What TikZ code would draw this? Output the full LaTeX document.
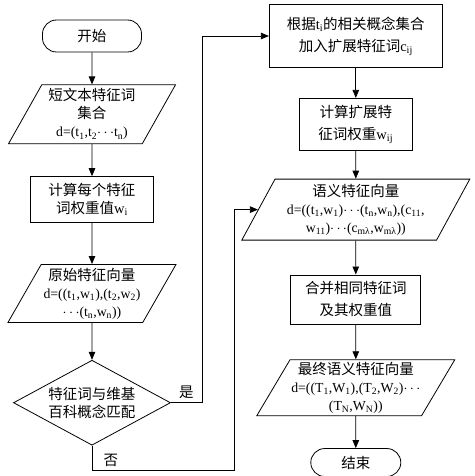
\documentclass[tikz,border=0pt]{standalone}
\usepackage{fontspec}
\setmainfont{Liberation Serif}
\newfontfamily\cjk{Noto Sans CJK SC}
\usetikzlibrary{positioning,shapes.geometric,arrows.meta}
\newcommand{\sbs}[1]{\textsubscript{#1}}
\newcommand{\cds}{$\cdots$}
\newcommand{\fml}{\fontsize{13.8}{17}\selectfont}
\tikzset{
	base/.style={draw, line width=0.8pt, inner sep=0pt, align=center, font=\fontsize{14.5}{18}\selectfont},
	terminal/.style={base, rectangle, rounded corners=14pt},
	process/.style={base, rectangle},
	data/.style={base, trapezium, trapezium left angle=57, trapezium right angle=123, trapezium stretches body},
	decision/.style={base, diamond, aspect=1.85},
	flow/.style={line width=0.8pt, -{Triangle[length=8pt,width=6.5pt]}},
	tag/.style={font=\fontsize{14.5}{18}\selectfont\cjk}
}
\begin{document}
\begin{tikzpicture}
	\useasboundingbox (-92pt,36pt) rectangle (382pt,-440pt);
	% left column
	\node[terminal, minimum width=99pt, minimum height=32pt] (start) {\cjk 开始};
	\node[data, minimum width=167pt, minimum height=59pt, below=32pt of start] (terms) {{\cjk 短文本特征词}\\{\cjk 集合}\\{\fml d=(t\sbs{1},t\sbs{2}\cds t\sbs{n})}};
	\node[process, minimum width=123pt, minimum height=46pt, below=32pt of terms] (weight) {{\cjk 计算每个特征}\\{\cjk 词权重值}w\sbs{i}};
	\node[data, minimum width=168pt, minimum height=58pt, below=41pt of weight] (orig) {{\cjk 原始特征向量}\\{\fml d=((t\sbs{1},w\sbs{1}),(t\sbs{2},w\sbs{2})}\\{\fml \cds(t\sbs{n},w\sbs{n}))}};
	\node[decision, minimum width=157pt, minimum height=85pt, below=37pt of orig] (match) {{\cjk 特征词与维基}\\{\cjk 百科概念匹配}};
	% right column
	\node[process, minimum width=173pt, minimum height=63pt, right=127pt of start] (concept) {{\cjk 根据}t\sbs{i}{\cjk 的相关概念集合}\\[4pt]{\cjk 加入扩展特征词}c\sbs{ij}};
	\node[process, minimum width=113pt, minimum height=52pt, below=30pt of concept] (extw) {{\cjk 计算扩展特}\\[4pt]{\cjk 征词权重}w\sbs{ij}};
	\node[data, minimum width=228pt, minimum height=61pt, below=28pt of extw] (sem) {{\cjk 语义特征向量}\\{\fml d=((t\sbs{1},w\sbs{1})\cds(t\sbs{n},w\sbs{n}),(c\sbs{11},}\\{\fml w\sbs{11})\cds(c\sbs{mλ},w\sbs{mλ}))}};
	\node[process, minimum width=130pt, minimum height=49pt, below=34pt of sem] (merge) {{\cjk 合并相同特征词}\\[4pt]{\cjk 及其权重值}};
	\node[data, minimum width=198pt, minimum height=56pt, below=35pt of merge] (final) {{\cjk 最终语义特征向量}\\{\fml d=((T\sbs{1},W\sbs{1}),(T\sbs{2},W\sbs{2})\cds}\\{\fml (T\sbs{N},W\sbs{N}))}};
	\node[terminal, minimum width=90pt, minimum height=28pt, below=32pt of final] (stop) {\cjk 结束};
	% turning points
	\coordinate[right=31pt of match.east] (yesturn);
	\coordinate[below=25pt of match.south] (nodown);
	\coordinate[left=35pt of concept.west] (back);
	% connectors
	\draw[flow] (start) -- (terms);
	\draw[flow] (terms) -- (weight);
	\draw[flow] (weight) -- (orig);
	\draw[flow] (orig) -- (match);
	\draw[flow] (match.east) -- node[tag, above] {是} (yesturn) |- (concept.west);
	\draw[flow] (match.south) -- node[tag, pos=0.6, right=8pt] {否} (nodown) -| (back |- sem.west) -- (sem.west);
	\draw[flow] (concept) -- (extw);
	\draw[flow] (extw) -- (sem);
	\draw[flow] (sem) -- (merge);
	\draw[flow] (merge) -- (final);
	\draw[flow] (final) -- (stop);
\end{tikzpicture}
\end{document}
